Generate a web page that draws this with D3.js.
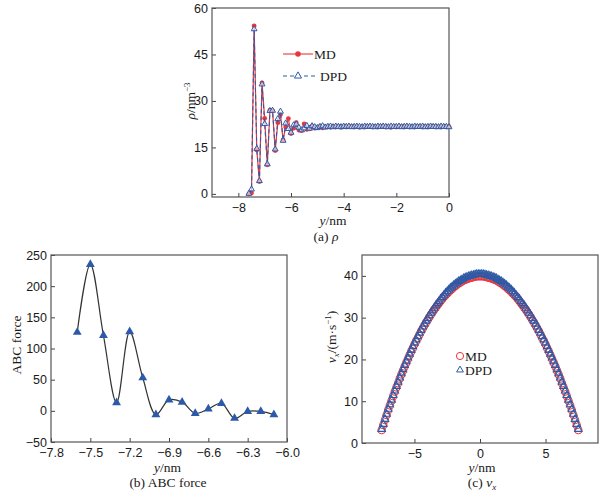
<!DOCTYPE html>
<html>
<head>
<meta charset="utf-8">
<title>rho, ABC force, vx</title>
<script src="https://d3js.org/d3.v7.min.js"></script>
<style>
  body { margin: 0; background: #fff; }
  svg { font-family: "Liberation Serif", "Times New Roman", serif; }
  .tick text { font-size: 12.5px; fill: #1a1a1a; }
  .tick line { stroke: #444; }
  .frame { fill: none; stroke: #555; stroke-width: 1.2; }
  .lbl { font-size: 13.5px; fill: #1a1a1a; }
</style>
</head>
<body>
<svg width="612" height="503"></svg>
<script>

// ---- (a) density profile, y/nm vs rho
var aY = [-7.6, -7.5, -7.4, -7.3, -7.2, -7.1, -7.0, -6.9, -6.8, -6.7, -6.6, -6.5, -6.4, -6.3, -6.2, -6.1,
  -6.0, -5.9, -5.8, -5.7, -5.6, -5.5, -5.4, -5.3, -5.2, -5.1, -5.0, -4.9, -4.8, -4.7, -4.6, -4.5,
  -4.4, -4.3, -4.2, -4.1, -4.0, -3.9, -3.8, -3.7, -3.6, -3.5, -3.4, -3.3, -3.2, -3.1, -3.0, -2.9,
  -2.8, -2.7, -2.6, -2.5, -2.4, -2.3, -2.2, -2.1, -2.0, -1.9, -1.8, -1.7, -1.6, -1.5, -1.4, -1.3,
  -1.2, -1.1, -1.0, -0.9, -0.8, -0.7, -0.6, -0.5, -0.4, -0.3, -0.2, -0.1, 0.0];
var aMD = [0.0, 0.3, 54.2, 14.2, 4.0, 35.8, 24.4, 9.4, 27.0, 26.8, 14.0, 23.0, 25.6, 17.4, 21.6, 24.3,
  19.5, 21.2, 23.0, 20.6, 20.4, 22.6, 20.8, 21.0, 21.9, 21.2, 21.4, 21.8, 21.3, 21.6, 21.7, 21.5,
  21.7, 21.6, 21.8, 21.5, 21.7, 21.6, 21.7, 21.8, 21.6, 21.7, 21.5, 21.7, 21.6, 21.8, 21.7, 21.6,
  21.7, 21.6, 21.8, 21.7, 21.6, 21.7, 21.5, 21.7, 21.6, 21.7, 21.8, 21.6, 21.7, 21.6, 21.7, 21.6,
  21.8, 21.7, 21.6, 21.7, 21.6, 21.7, 21.8, 21.6, 21.7, 21.6, 21.7, 21.6, 21.7];
var aDPD = [0.1, 1.5, 53.2, 14.6, 4.2, 35.4, 22.6, 9.6, 26.8, 26.9, 14.4, 24.2, 26.6, 17.2, 22.8, 21.0,
  19.8, 22.2, 22.5, 21.4, 20.6, 21.2, 22.0, 21.1, 21.9, 21.6, 21.3, 21.7, 21.9, 21.5, 21.7, 21.8,
  21.6, 21.8, 21.7, 21.6, 21.8, 21.7, 21.8, 21.6, 21.7, 21.8, 21.7, 21.6, 21.8, 21.7, 21.8, 21.7,
  21.6, 21.8, 21.7, 21.8, 21.7, 21.6, 21.8, 21.7, 21.7, 21.8, 21.6, 21.7, 21.8, 21.7, 21.6, 21.8,
  21.7, 21.7, 21.8, 21.6, 21.7, 21.8, 21.7, 21.7, 21.6, 21.8, 21.7, 21.7, 21.6];
var aXTicks = [-8, -6, -4, -2, 0];
var aYTicks = [0, 15, 30, 45, 60];

// ---- (b) ABC force
var bY = [-7.6, -7.5, -7.4, -7.3, -7.2, -7.1, -7.0, -6.9, -6.8, -6.7, -6.6, -6.5, -6.4, -6.3, -6.2, -6.1];
var bForce = [126, 235, 121, 13, 127, 53, -6, 17.5, 14, -4, 3, 12, -12, -1, -1, -6];
var bXTicks = [-7.8, -7.5, -7.2, -6.9, -6.6, -6.3, -6.0];
var bYTicks = [-50, 0, 50, 100, 150, 200, 250];

// ---- (c) velocity profile
var cY = [-7.5, -7.375, -7.25, -7.125, -7.0, -6.875, -6.75, -6.625, -6.5, -6.375, -6.25, -6.125,
  -6.0, -5.875, -5.75, -5.625, -5.5, -5.375, -5.25, -5.125, -5.0, -4.875, -4.75, -4.625,
  -4.5, -4.375, -4.25, -4.125, -4.0, -3.875, -3.75, -3.625, -3.5, -3.375, -3.25, -3.125,
  -3.0, -2.875, -2.75, -2.625, -2.5, -2.375, -2.25, -2.125, -2.0, -1.875, -1.75, -1.625,
  -1.5, -1.375, -1.25, -1.125, -1.0, -0.875, -0.75, -0.625, -0.5, -0.375, -0.25, -0.125, 0,
  0.125, 0.25, 0.375, 0.5, 0.625, 0.75, 0.875, 1.0, 1.125, 1.25, 1.375, 1.5,
  1.625, 1.75, 1.875, 2.0, 2.125, 2.25, 2.375, 2.5, 2.625, 2.75, 2.875, 3.0,
  3.125, 3.25, 3.375, 3.5, 3.625, 3.75, 3.875, 4.0, 4.125, 4.25, 4.375, 4.5,
  4.625, 4.75, 4.875, 5.0, 5.125, 5.25, 5.375, 5.5, 5.625, 5.75, 5.875, 6.0,
  6.125, 6.25, 6.375, 6.5, 6.625, 6.75, 6.875, 7.0, 7.125, 7.25, 7.375, 7.5];
var cMD = [3.1, 4.3, 5.5, 6.7, 7.9, 9.0, 10.1, 11.2, 12.3, 13.3, 14.3, 15.4,
  16.4, 17.3, 18.3, 19.2, 20.1, 21.0, 21.9, 22.7, 23.6, 24.4, 25.1, 25.9,
  26.7, 27.4, 28.1, 28.8, 29.4, 30.1, 30.7, 31.3, 31.9, 32.4, 33.0, 33.5,
  34.0, 34.5, 35.0, 35.4, 35.8, 36.2, 36.6, 36.9, 37.3, 37.6, 37.9, 38.2,
  38.4, 38.7, 38.9, 39.1, 39.2, 39.4, 39.5, 39.6, 39.7, 39.8, 39.9, 39.9, 39.9,
  39.9, 39.9, 39.8, 39.7, 39.6, 39.5, 39.4, 39.2, 39.1, 38.9, 38.7, 38.4,
  38.2, 37.9, 37.6, 37.3, 36.9, 36.6, 36.2, 35.8, 35.4, 35.0, 34.5, 34.0,
  33.5, 33.0, 32.4, 31.9, 31.3, 30.7, 30.1, 29.4, 28.8, 28.1, 27.4, 26.7,
  25.9, 25.1, 24.4, 23.6, 22.7, 21.9, 21.0, 20.1, 19.2, 18.3, 17.3, 16.4,
  15.4, 14.3, 13.3, 12.3, 11.2, 10.1, 9.0, 7.9, 6.7, 5.5, 4.3, 3.1];
var cDPD = [3.3, 4.5, 5.7, 6.9, 8.1, 9.2, 10.3, 11.4, 12.5, 13.6, 14.6, 15.6,
  16.6, 17.6, 18.6, 19.5, 20.4, 21.3, 22.2, 23.1, 23.9, 24.7, 25.5, 26.3,
  27.0, 27.8, 28.5, 29.2, 29.8, 30.5, 31.1, 31.7, 32.3, 32.9, 33.4, 33.9,
  34.5, 34.9, 35.4, 35.9, 36.3, 36.7, 37.1, 37.4, 37.8, 38.1, 38.4, 38.7,
  38.9, 39.1, 39.4, 39.6, 39.7, 39.9, 40.0, 40.1, 40.2, 40.3, 40.4, 40.4, 40.4,
  40.4, 40.4, 40.3, 40.2, 40.1, 40.0, 39.9, 39.7, 39.6, 39.4, 39.1, 38.9,
  38.7, 38.4, 38.1, 37.8, 37.4, 37.1, 36.7, 36.3, 35.9, 35.4, 34.9, 34.5,
  33.9, 33.4, 32.9, 32.3, 31.7, 31.1, 30.5, 29.8, 29.2, 28.5, 27.8, 27.0,
  26.3, 25.5, 24.7, 23.9, 23.1, 22.2, 21.3, 20.4, 19.5, 18.6, 17.6, 16.6,
  15.6, 14.6, 13.6, 12.5, 11.4, 10.3, 9.2, 8.1, 6.9, 5.7, 4.5, 3.3];
var cXTicks = [-5, 0, 5];
var cYTicks = [0, 10, 20, 30, 40];

var red = "#e8383d", blue = "#2c5aa8";
var svg = d3.select("svg");

// box + inward ticks on left and bottom
function drawAxes(x, y, xt, yt, fmt) {
  var g = svg.append("g");
  var r = x.range(), b = y.range();
  g.append("g")
    .attr("transform", "translate(0," + b[0] + ")")
    .call(d3.axisBottom(x).tickValues(xt).tickSize(-4).tickPadding(6).tickFormat(fmt || d3.format("")))
    .call(function(s) { s.select(".domain").remove(); });
  g.append("g")
    .attr("transform", "translate(" + r[0] + ",0)")
    .call(d3.axisLeft(y).tickValues(yt).tickSize(-4).tickPadding(4))
    .call(function(s) { s.select(".domain").remove(); });
  g.append("rect").attr("class", "frame")
    .attr("x", r[0]).attr("y", b[1])
    .attr("width", r[1] - r[0]).attr("height", b[0] - b[1]);
}

// "y/nm" style label with italic first part
function xTitle(cx, cy) {
  var t = svg.append("text").attr("class", "lbl").attr("x", cx).attr("y", cy).attr("text-anchor", "middle");
  t.append("tspan").attr("font-style", "italic").text("y");
  t.append("tspan").text("/nm");
}

// ============ (a) ============
var ax = d3.scaleLinear().domain([-9, 0]).range([212, 449]);
var ay = d3.scaleLinear().domain([-1, 60]).range([197, 8]);
drawAxes(ax, ay, aXTicks, aYTicks);

var aLine = d3.line()
  .x(function(d) { return ax(d[0]); })
  .y(function(d) { return ay(d[1]); });
var aMDpts = aY.map(function(v, i) { return [v, aMD[i]]; });
var aDPDpts = aY.map(function(v, i) { return [v, aDPD[i]]; });

svg.append("path").datum(aMDpts)
  .attr("d", aLine).attr("fill", "none").attr("stroke", red).attr("stroke-width", 1.2);
svg.append("g").selectAll("circle").data(aMDpts).enter().append("circle")
  .attr("cx", function(d) { return ax(d[0]); })
  .attr("cy", function(d) { return ay(d[1]); })
  .attr("r", 2.4).attr("fill", red);

svg.append("path").datum(aDPDpts)
  .attr("d", aLine).attr("fill", "none").attr("stroke", blue).attr("stroke-width", 1.1)
  .attr("stroke-dasharray", "4,3");
var triSmall = d3.symbol().type(d3.symbolTriangle).size(15);
svg.append("g").selectAll("path").data(aDPDpts).enter().append("path")
  .attr("d", triSmall)
  .attr("transform", function(d) { return "translate(" + ax(d[0]) + "," + ay(d[1]) + ")"; })
  .attr("fill", "#fff").attr("fill-opacity", 0.6).attr("stroke", blue).attr("stroke-width", 1);

// legend (a)
svg.append("line").attr("x1", 283).attr("x2", 313).attr("y1", 54).attr("y2", 54)
  .attr("stroke", red).attr("stroke-width", 1.1);
svg.append("circle").attr("cx", 298).attr("cy", 54).attr("r", 2.8).attr("fill", red);
svg.append("text").attr("class", "lbl").attr("x", 314).attr("y", 58.5).text("MD");
svg.append("line").attr("x1", 283).attr("x2", 318).attr("y1", 76).attr("y2", 76)
  .attr("stroke", blue).attr("stroke-width", 1.1).attr("stroke-dasharray", "4,3");
svg.append("path").attr("d", d3.symbol().type(d3.symbolTriangle).size(22))
  .attr("transform", "translate(298,76)")
  .attr("fill", "#fff").attr("stroke", blue).attr("stroke-width", 1);
svg.append("text").attr("class", "lbl").attr("x", 320).attr("y", 80.5).text("DPD");

// titles (a)
xTitle(333, 225);
var aYt = svg.append("text").attr("class", "lbl").attr("text-anchor", "middle")
  .attr("transform", "translate(195,101) rotate(-90)");
aYt.append("tspan").attr("font-style", "italic").text("ρ");
aYt.append("tspan").text("/nm");
aYt.append("tspan").attr("font-size", "9px").attr("dy", -5).text("−3");
var aCap = svg.append("text").attr("class", "lbl").attr("x", 326).attr("y", 241).attr("text-anchor", "middle");
aCap.append("tspan").text("(a) ");
aCap.append("tspan").attr("font-style", "italic").text("ρ");

// ============ (b) ============
var bx = d3.scaleLinear().domain([-7.8, -6.0]).range([51, 287]);
var by = d3.scaleLinear().domain([-50, 250]).range([442, 255]);
drawAxes(bx, by, bXTicks, bYTicks, d3.format(".1f"));

var bPts = bY.map(function(v, i) { return [v, bForce[i]]; });
svg.append("path").datum(bPts)
  .attr("d", d3.line()
    .curve(d3.curveCatmullRom.alpha(0.5))
    .x(function(d) { return bx(d[0]); })
    .y(function(d) { return by(d[1]); }))
  .attr("fill", "none").attr("stroke", "#333").attr("stroke-width", 1.2);
svg.append("g").selectAll("path").data(bPts).enter().append("path")
  .attr("d", d3.symbol().type(d3.symbolTriangle).size(34))
  .attr("transform", function(d) { return "translate(" + bx(d[0]) + "," + by(d[1]) + ")"; })
  .attr("fill", blue);

xTitle(167.5, 472);
svg.append("text").attr("class", "lbl").attr("text-anchor", "middle")
  .attr("transform", "translate(21,345) rotate(-90)").text("ABC force");
svg.append("text").attr("class", "lbl").attr("x", 168).attr("y", 486.5)
  .attr("text-anchor", "middle").text("(b) ABC force");

// ============ (c) ============
var cx = d3.scaleLinear().domain([-9, 9]).range([362, 598]);
var cy = d3.scaleLinear().domain([0, 45]).range([443, 255]);
drawAxes(cx, cy, cXTicks, cYTicks);

svg.append("g").selectAll("circle").data(cY).enter().append("circle")
  .attr("cx", function(d) { return cx(d); })
  .attr("cy", function(d, i) { return cy(cMD[i]); })
  .attr("r", 3.8).attr("fill", "none").attr("stroke", red).attr("stroke-width", 1);
svg.append("g").selectAll("path").data(cY).enter().append("path")
  .attr("d", d3.symbol().type(d3.symbolTriangle).size(24))
  .attr("transform", function(d, i) { return "translate(" + cx(d) + "," + cy(cDPD[i]) + ")"; })
  .attr("fill", "none").attr("stroke", blue).attr("stroke-width", 1.1);

// legend (c)
svg.append("circle").attr("cx", 460).attr("cy", 356).attr("r", 3.6)
  .attr("fill", "none").attr("stroke", red).attr("stroke-width", 1);
svg.append("text").attr("class", "lbl").attr("x", 465).attr("y", 360.5).text("MD");
svg.append("path").attr("d", d3.symbol().type(d3.symbolTriangle).size(20))
  .attr("transform", "translate(460,370)")
  .attr("fill", "none").attr("stroke", blue).attr("stroke-width", 1);
svg.append("text").attr("class", "lbl").attr("x", 465).attr("y", 374.5).text("DPD");

xTitle(482, 472);
var cYt = svg.append("text").attr("class", "lbl").attr("text-anchor", "middle")
  .attr("transform", "translate(336,337) rotate(-90)");
cYt.append("tspan").attr("font-style", "italic").text("v");
cYt.append("tspan").attr("font-style", "italic").attr("font-size", "9px").attr("dy", 3).text("x");
cYt.append("tspan").attr("dy", -3).text("/(m·s");
cYt.append("tspan").attr("font-size", "9px").attr("dy", -5).text("−1");
cYt.append("tspan").attr("dy", 5).text(")");
var cCap = svg.append("text").attr("class", "lbl").attr("x", 482).attr("y", 486.5).attr("text-anchor", "middle");
cCap.append("tspan").text("(c) ");
cCap.append("tspan").attr("font-style", "italic").text("v");
cCap.append("tspan").attr("font-style", "italic").attr("font-size", "9px").attr("dy", 3).text("x");

</script>
</body>
</html>
